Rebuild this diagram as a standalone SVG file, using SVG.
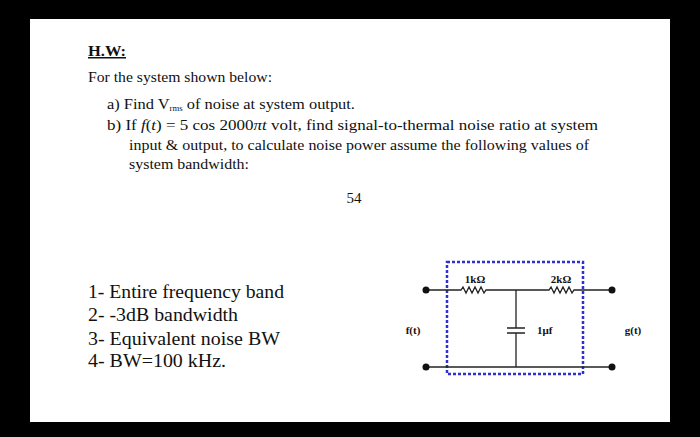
<svg xmlns="http://www.w3.org/2000/svg" width="700" height="437" viewBox="0 0 700 437">
<style>
text{font-family:"Liberation Serif",serif;fill:#111}
.t{font-size:15px}
.l{font-size:18px}
.c{font-size:11px;font-weight:bold}
.w{stroke:#222;stroke-width:1.3;fill:none}
</style>
<rect width="700" height="437" fill="#000"/>
<rect x="30" y="19" width="640" height="403" fill="#fff"/>
<g id="text">
<text x="88" y="56" class="t" font-weight="bold" text-decoration="underline" textLength="38" lengthAdjust="spacingAndGlyphs">H.W:</text>
<text x="88" y="82" class="t" textLength="184" lengthAdjust="spacingAndGlyphs">For the system shown below:</text>
<text x="107" y="109" class="t" textLength="248" lengthAdjust="spacingAndGlyphs">a) Find V<tspan font-size="8" dy="2">rms</tspan><tspan dy="-2"> of noise at system output.</tspan></text>
<text x="107" y="130" class="t" textLength="491" lengthAdjust="spacingAndGlyphs">b) If <tspan font-style="italic">f</tspan>(<tspan font-style="italic">t</tspan>) = 5 cos 2000<tspan font-style="italic">πt</tspan> volt, find signal-to-thermal noise ratio  at system</text>
<text x="129" y="150" class="t" textLength="460" lengthAdjust="spacingAndGlyphs">input &amp; output, to calculate noise power assume the following values of</text>
<text x="129" y="169" class="t" textLength="120" lengthAdjust="spacingAndGlyphs">system bandwidth:</text>
<text x="354" y="203" class="t" text-anchor="middle">54</text>
<text x="88" y="298" class="l" textLength="196" lengthAdjust="spacingAndGlyphs">1- Entire frequency band</text>
<text x="88" y="321" class="l" textLength="150" lengthAdjust="spacingAndGlyphs">2- -3dB bandwidth</text>
<text x="88" y="345" class="l" textLength="192" lengthAdjust="spacingAndGlyphs">3- Equivalent noise BW</text>
<text x="88" y="367" class="l" textLength="138" lengthAdjust="spacingAndGlyphs">4- BW=100 kHz.</text>
</g>
<g id="box"><rect x="447" y="262" width="136" height="112" fill="none" stroke="#3030d0" stroke-width="2.5" stroke-dasharray="3,2"/></g>
<g id="connectors">
<path class="w" d="M426 290H461l2-3 3 6 3-6 3 6 3-6 3 6 3-6 3 6 2-3H549l2-3 3 6 3-6 3 6 3-6 3 6 3-6 3 6 2-3H612"/>
<path class="w" d="M426 367H612"/>
<path class="w" d="M516 290V328M507 328H525M507 333H525M516 333V367"/>
</g>
<g id="terminals" fill="#111">
<circle cx="426" cy="290" r="3.5"/><circle cx="612" cy="290" r="3.5"/>
<circle cx="426" cy="367" r="3.5"/><circle cx="612" cy="367" r="3.5"/>
</g>
<g id="labels">
<text x="475" y="283" class="c" text-anchor="middle">1kΩ</text>
<text x="561" y="283" class="c" text-anchor="middle">2kΩ</text>
<text x="537" y="334" class="c">1μf</text>
<text x="413" y="334" class="c" text-anchor="middle">f(t)</text>
<text x="633" y="334" class="c" text-anchor="middle">g(t)</text>
</g>
</svg>
